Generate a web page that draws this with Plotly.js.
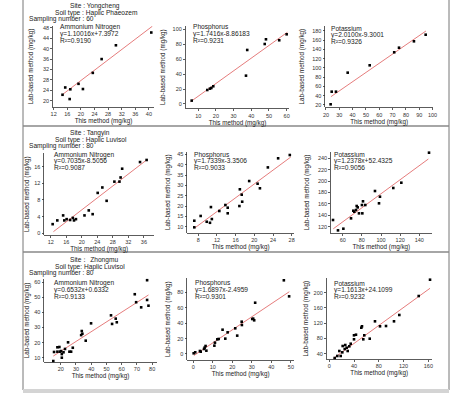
<!DOCTYPE html>
<html><head><meta charset="utf-8">
<script src="https://cdn.plot.ly/plotly-3.0.1.min.js"></script>
<style>html,body{margin:0;padding:0;background:#fff}#chart{width:474px;height:395px}</style>
</head><body><div id="chart"></div>
<script>
// ---- text data ----
const sites = ["Yongcheng", "Tangyin", "Zhongmu"];
const siteLabels = ["Site :", "Site :", "Site："];
const soilLabels = ["Soil type :", "Soil type :", "Soil type:"];
const samplingLabel = "Sampling number :";
const soilTypes = ["Haplic Phaeozem", "Haplic Luvisol", "Haplic Luvisol"];
const samplingNumbers = ["60", "80", "80"];
const nutrients = ["Ammonium Nitrogen", "Phosphorus", "Potassium"];
const equations = ["y=1.10016x+7.3972", "y=1.7416x-8.86183", "y=2.0100x-9.3001",
                   "y=0.7035x-8.5056", "y=1.7339x-3.3506", "y=1.2378x+52.4325",
                   "y=0.6532x+0.6332", "y=1.6897x-2.4959", "y=1.1613x+24.1099"];
const r2Values = ["0.9190", "0.9231", "0.9326", "0.9087", "0.9033", "0.9056", "0.9133", "0.9301", "0.9232"];
const xTitle = "This method (mg/kg)";
const yTitle = "Lab-based method (mg/kg)";

// ---- Yongcheng ----
const ycNX = [14.6, 15.4, 16.7, 16.9, 19.3, 20.6, 23.5, 26.1, 30.3, 40.7];
const ycNY = [22.3, 25.1, 20.65, 24.4, 26.5, 24.5, 30.7, 36, 41.3, 46.2];
const ycNFitX = [14.5, 41]; const ycNFitY = [22.3, 48.6];
const ycPX = [6.3, 15.1, 16.6, 17.4, 18.5, 37, 37.7, 47.6, 48.3, 55.8, 60];
const ycPY = [4.5, 18.7, 20.5, 21.4, 23.7, 37.9, 72.3, 80.3, 86.6, 85.3, 93.3];
const ycPFitX = [5.7, 60.4]; const ycPFitY = [3.1, 96];
const ycKX = [23.5, 24.3, 27.5, 36.3, 52.8, 71.2, 74.8, 86, 94.8];
const ycKY = [21.5, 48.8, 48.8, 89.9, 105.8, 134, 143.9, 157.7, 172];
const ycKFitX = [23.75, 95]; const ycKFitY = [38, 180];

// ---- Tangyin ----
const tyNX = [12.5, 13.7, 15.2, 15.5, 16.1, 17, 17.7, 18, 18.5, 20.7, 21.8, 22.8, 24.1, 25.3, 26.4, 28.4, 29.7, 30, 30.4, 35, 36.7];
const tyNY = [2.2, 3.1, 4.3, 3.1, 3.4, 3.2, 3.7, 3.1, 3.4, 4.3, 5.5, 4.6, 9.7, 11, 7.8, 12.4, 12.4, 13.4, 15.5, 17.1, 17.6];
const tyNFitX = [12.7, 36.7]; const tyNFitY = [0.4, 17.6];
const tyPX = [7.14, 7.14, 8.5, 9.8, 10.5, 10.7, 10.9, 12.5, 13.8, 14.3, 14.3, 16.8, 16.9, 17.3, 17.4, 18.9, 20.7, 21.2, 22.9, 25.1, 27.6];
const tyPY = [12.9, 9.7, 15.2, 12.4, 11.9, 19.5, 13.7, 17.6, 20.5, 19.2, 16.5, 20, 28.1, 25.5, 22.1, 32.1, 30.8, 28.6, 38.7, 43.1, 44.7];
const tyPFitX = [7.3, 27.8]; const tyPFitY = [9.5, 43.7];
const tyKX = [49.9, 55.1, 60.7, 68.7, 71.1, 72.1, 73.9, 74.6, 75.7, 77, 80.5, 80.1, 81.2, 83.6, 93.7, 97.9, 98.9, 112.8, 121.2, 150.1];
const tyKY = [131.8, 113.6, 116.5, 134.7, 148.1, 146.4, 149.4, 156.4, 154, 143.5, 143.5, 158.1, 164.6, 158.1, 182.7, 161.1, 172.7, 188, 197.3, 250];
const tyKFitX = [50.2, 149.4]; const tyKFitY = [116.4, 238.9];

// ---- Zhongmu ----
const zmNX = [15.1, 15.6, 17.8, 17.8, 19.1, 19.5, 20.2, 20.7, 20.7, 21.8, 22.8, 24.8, 25.7, 26.8, 27.9, 33.4, 33.8, 34.2, 36.4, 39.9, 53, 53.7, 56.1, 56.8, 68.6, 69.5, 72.8, 76.7, 77.6, 76.7];
const zmNY = [7.8, 13.8, 16.9, 14, 17.1, 14, 14.4, 12.4, 10, 13.6, 15.8, 20.2, 14, 14, 16.6, 25, 27.7, 25.9, 21.3, 32.8, 38.1, 32.4, 35.9, 33.5, 52.1, 46.8, 43.4, 48.3, 44.5, 61.4];
const zmNFitX = [15.1, 77.6]; const zmNFitY = [11.1, 51.6];
const zmPX = [0.2, 1, 3.4, 3.8, 5.5, 5.8, 6.3, 6.7, 10.8, 11.1, 12.3, 13, 15, 16.4, 17.6, 21.5, 22.5, 24.8, 24.9, 30.2, 30.7, 31.2, 31.7, 46.4, 49.1];
const zmPY = [0.9, 2.2, 3.9, 3, 6.5, 8.2, 10.4, 4.3, 10.8, 14.7, 19, 19.5, 31.5, 19.9, 28.1, 33.3, 23.8, 41.9, 37.6, 45.4, 45.8, 43.7, 66.5, 95.6, 74.8];
const zmPFitX = [0.3, 49.2]; const zmPFitY = [-2, 80.8];
const zmKX = [8.7, 12.9, 16.2, 18.4, 21, 21.6, 24.9, 25.8, 28.1, 29.7, 32.3, 34.6, 39.9, 39.9, 43.1, 51.7, 52.8, 54.9, 56.5, 65.3, 73.8, 81.9, 91.6, 104.5, 113.1, 144.4, 162.7];
const zmKY = [28.7, 34, 47.1, 34, 43.6, 60.2, 52.3, 62.8, 55.7, 47.1, 59.4, 66.2, 77.8, 88.3, 89.9, 108.2, 111.9, 77.8, 88.3, 79.4, 125, 111.9, 112.7, 125, 141.6, 191.4, 234.2];
const zmKFitX = [6.5, 162.7]; const zmKFitY = [27.5, 211.7];

// ---- tick values ----
const ycNXTicks = [12, 16, 20, 24, 28, 32, 36, 40]; const ycNYTicks = [20, 24, 28, 32, 36, 40, 44, 48];
const ycPXTicks = [10, 20, 30, 40, 50, 60]; const ycPYTicks = [0, 20, 40, 60, 80, 100];
const ycKXTicks = [20, 30, 40, 50, 60, 70, 80, 90, 100]; const ycKYTicks = [20, 40, 60, 80, 100, 120, 140, 160, 180];
const tyNXTicks = [12, 16, 20, 24, 28, 32, 36]; const tyNYTicks = [0, 4, 8, 12, 16];
const tyPXTicks = [8, 12, 16, 20, 24, 28]; const tyPYTicks = [10, 15, 20, 25, 30, 35, 40, 45];
const tyKXTicks = [60, 80, 100, 120, 140]; const tyKYTicks = [120, 140, 160, 180, 200, 220, 240];
const zmNXTicks = [20, 30, 40, 50, 60, 70, 80]; const zmNYTicks = [10, 20, 30, 40, 50, 60];
const zmPXTicks = [0, 10, 20, 30, 40, 50]; const zmPYTicks = [0, 20, 40, 60, 80];
const zmKXTicks = [0, 40, 80, 120, 160]; const zmKYTicks = [40, 80, 120, 160, 200];

// ---- assemble panels ----
const panelData = [
  [ycNX, ycNY, ycNFitX, ycNFitY, ycNXTicks, ycNYTicks],
  [ycPX, ycPY, ycPFitX, ycPFitY, ycPXTicks, ycPYTicks],
  [ycKX, ycKY, ycKFitX, ycKFitY, ycKXTicks, ycKYTicks],
  [tyNX, tyNY, tyNFitX, tyNFitY, tyNXTicks, tyNYTicks],
  [tyPX, tyPY, tyPFitX, tyPFitY, tyPXTicks, tyPYTicks],
  [tyKX, tyKY, tyKFitX, tyKFitY, tyKXTicks, tyKYTicks],
  [zmNX, zmNY, zmNFitX, zmNFitY, zmNXTicks, zmNYTicks],
  [zmPX, zmPY, zmPFitX, zmPFitY, zmPXTicks, zmPYTicks],
  [zmKX, zmKY, zmKFitX, zmKFitY, zmKXTicks, zmKYTicks]
];

// layout geometry (pixels): left, right, top, bottom, x range, y range, y-title standoff, text position
const W = 474, H = 395;
const geom = [
  {l: 53, r: 154, t: 26, b: 107, xr: [11.8, 41.5], yr: [17.6, 48.7], so: 8, tx: 58, ty: 27},
  {l: 185.7, r: 289.3, t: 26, b: 108.3, xr: [2.9, 61.5], yr: [-5.8, 104.4], so: 6, tx: 191, ty: 27},
  {l: 325.3, r: 433, t: 26, b: 107.3, xr: [19.5, 100.3], yr: [15, 190.8], so: 6, tx: 329, ty: 28},
  {l: 44.3, r: 154, t: 153.3, b: 235, xr: [10.35, 38.6], yr: [-0.4, 19.2], so: 3, tx: 52, ty: 154.5},
  {l: 187.3, r: 294, t: 151.7, b: 232.7, xr: [5.64, 28.5], yr: [7.1, 46.3], so: 5, tx: 192, ty: 154.5},
  {l: 331, r: 431.7, t: 152, b: 232.7, xr: [47.8, 152.9], yr: [109.5, 251.2], so: 7.5, tx: 332, ty: 154.5},
  {l: 44.3, r: 156.7, t: 279.3, b: 361.7, xr: [9.2, 83], yr: [7.35, 62], so: 3.5, tx: 52, ty: 283},
  {l: 187.3, r: 294, t: 278.3, b: 360, xr: [-3.07, 51.6], yr: [-7.8, 98.2], so: 5, tx: 193, ty: 283},
  {l: 326.7, r: 431.7, t: 278.3, b: 359, xr: [-4.2, 165.4], yr: [26.1, 237.9], so: 4, tx: 332, ty: 283}
];

const FONT = "Liberation Sans, Arial, sans-serif";
const TXT = "#222";
const traces = [];
const layout = {
  width: W, height: H,
  margin: {l: 0, r: 0, t: 0, b: 0},
  paper_bgcolor: "#fff", plot_bgcolor: "rgba(0,0,0,0)",
  showlegend: false,
  font: {family: FONT, size: 6, color: TXT},
  annotations: [], shapes: []
};

panelData.forEach((pd, i) => {
  const g = geom[i];
  const n = i + 1;
  const xa = n === 1 ? "x" : "x" + n;
  const ya = n === 1 ? "y" : "y" + n;
  traces.push({
    type: "scatter", mode: "lines", x: pd[2], y: pd[3], xaxis: xa, yaxis: ya,
    line: {color: "#e26d6d", width: 0.9}, hoverinfo: "skip"
  });
  traces.push({
    type: "scatter", mode: "markers", x: pd[0], y: pd[1], xaxis: xa, yaxis: ya,
    marker: {symbol: "square", size: 2.6, color: "#000"}, cliponaxis: false
  });
  const common = {
    showgrid: false, zeroline: false, showline: true, linecolor: "#333", linewidth: 0.8,
    ticks: "outside", ticklen: 2, tickwidth: 0.8, tickcolor: "#333",
    tickfont: {family: FONT, size: 5.5, color: "#333"}, automargin: false, fixedrange: true
  };
  layout["xaxis" + (n === 1 ? "" : n)] = Object.assign({}, common, {
    domain: [g.l / W, g.r / W], range: g.xr, tickvals: pd[4], anchor: ya,
    title: {text: xTitle, font: {family: FONT, size: 6.3, color: TXT}, standoff: 0}
  });
  layout["yaxis" + (n === 1 ? "" : n)] = Object.assign({}, common, {
    domain: [1 - g.b / H, 1 - g.t / H], range: g.yr, tickvals: pd[5], anchor: xa,
    title: {text: yTitle, font: {family: FONT, size: 6.3, color: TXT}, standoff: g.so}
  });
  const lines = [nutrients[i % 3], equations[i], "R²=" + r2Values[i]];
  const dy = [0, 6.8, 13.3];
  lines.forEach((t, k) => {
    layout.annotations.push({
      xref: "paper", yref: "paper", x: g.tx / W, y: 1 - (g.ty + dy[k]) / H,
      xanchor: "left", yanchor: "middle", showarrow: false, text: t,
      font: {family: FONT, size: 6.6, color: TXT}
    });
  });
});

// headers: one line of text per row, left edges
const headerTop = [6, 133, 260];
const headerLeft = [68, 53, 27];
sites.forEach((s, r) => {
  const rows = [siteLabels[r] + " " + s, soilLabels[r] + " " + soilTypes[r], samplingLabel + " " + samplingNumbers[r]];
  rows.forEach((txt, k) => {
    layout.annotations.push({xref: "paper", yref: "paper", x: headerLeft[k] / W, y: 1 - (headerTop[r] + k * 6.6) / H,
      xanchor: "left", yanchor: "middle", showarrow: false, text: txt,
      font: {family: FONT, size: 6.6, color: TXT}});
  });
});

// frame lines
const px = v => v / W, py = v => 1 - v / H;
const frame = {type: "line", xref: "paper", yref: "paper", layer: "below"};
layout.shapes.push(Object.assign({}, frame, {x0: px(23), x1: px(23), y0: py(0), y1: py(390), line: {color: "#777", width: 1}}));
layout.shapes.push(Object.assign({}, frame, {x0: px(449), x1: px(449), y0: py(0), y1: py(390), line: {color: "#777", width: 1}}));
[126, 252].forEach(v => layout.shapes.push(Object.assign({}, frame, {x0: px(23), x1: px(449), y0: py(v), y1: py(v), line: {color: "#888", width: 1.5}})));
layout.shapes.push({type: "rect", xref: "paper", yref: "paper", layer: "below", x0: px(23), x1: px(449), y0: py(393), y1: py(389),
  fillcolor: "#d4d4d4", line: {width: 0}});

Plotly.newPlot("chart", traces, layout, {staticPlot: true, displayModeBar: false});
</script></body></html>
